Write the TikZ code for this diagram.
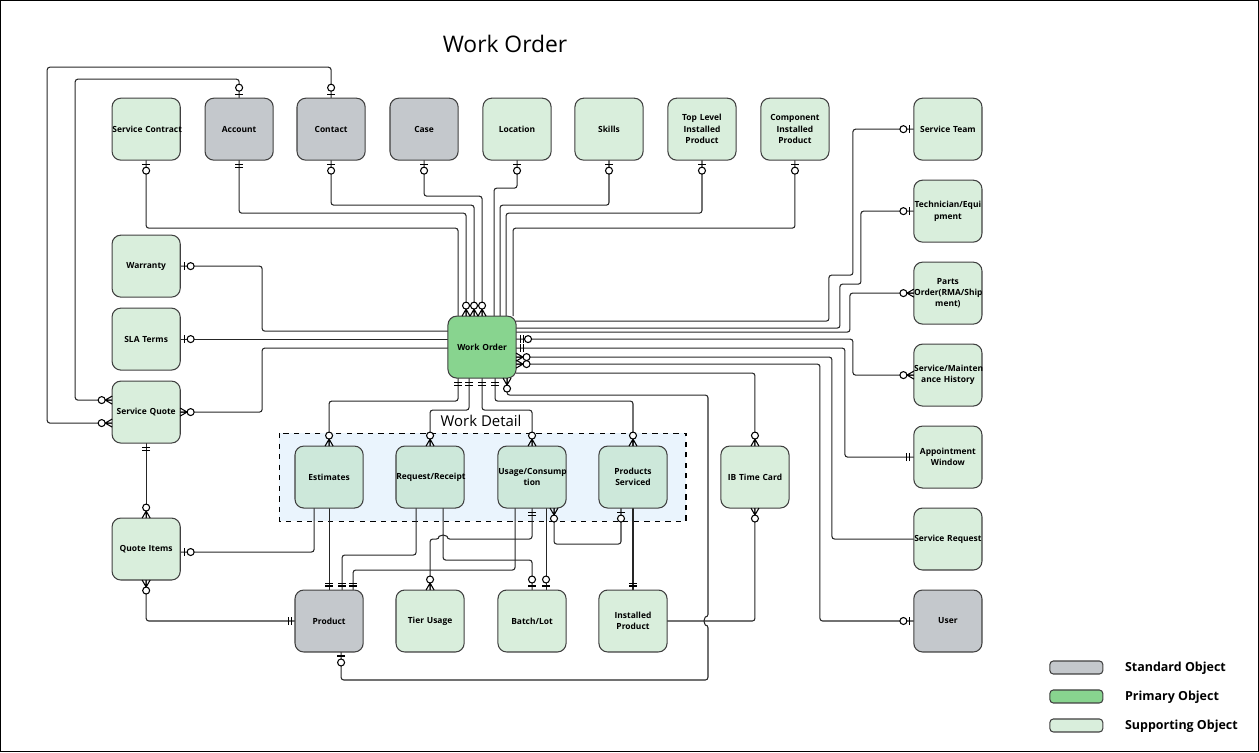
\documentclass[tikz,border=0pt]{standalone}
\usepackage{fontspec}
\setmainfont{Open Sans}
\begin{document}
\begin{tikzpicture}[x=0.02cm,y=-0.02cm,
 ent/.style={draw=black!75,line width=0.6pt,rounded corners=5pt,inner sep=0.2pt,minimum width=1.36cm,minimum height=1.24cm,text width=1.35cm,align=center,font=\fontsize{4.8}{6.5}\selectfont\bfseries},
 sup/.style={ent,fill=supc},
 std/.style={ent,fill=stdc},
 wd/.style={ent,fill=wdc},
 ln/.style={line width=0.6pt,black!85,rounded corners=1.5pt},
 zo/.pic={\draw[line width=0.6pt] (4,-4)--(4,4); \draw[line width=0.6pt,fill=white] (10.5,0) circle[radius=3.5];},
 zm/.pic={\draw[line width=0.6pt] (0,-4)--(7,0)--(0,4) (0,0)--(7,0); \draw[line width=0.6pt,fill=white] (10.5,0) circle[radius=3.5];},
 oo/.pic={\draw[line width=0.6pt] (4,-4)--(4,4) (7,-4)--(7,4);},
 ooz/.pic={\draw[line width=0.6pt] (4,-4)--(4,4) (7,-4)--(7,4); \draw[line width=0.6pt,fill=white] (12,0) circle[radius=3.5];}
]
\definecolor{supc}{HTML}{D9EEDC}
\definecolor{stdc}{HTML}{C4C8CC}
\definecolor{pric}{HTML}{88D48F}
\definecolor{wdc}{HTML}{CDE8DA}
\definecolor{boxc}{HTML}{EAF4FD}
\draw[black,line width=0.8pt] (0.5,0.5) rectangle (1258.5,751.5);
\useasboundingbox (0,0) rectangle (1259,752);
\node[font=\fontsize{13}{15}\selectfont] (title) at (505,44) {Work Order};
\draw[dashed,line width=0.6pt,fill=boxc] (279,433) rectangle (686,521);
\node[font=\fontsize{8.5}{10}\selectfont] (wdl) at (481,421) {Work Detail};
% connectors
\draw[ln] (146,160) -- (146,228) -- (458,228) -- (458,316);
\draw[ln] (239,160) -- (239,213) -- (466,213) -- (466,316);
\draw[ln] (331,160) -- (331,205) -- (474,205) -- (474,316);
\draw[ln] (424,160) -- (424,196) -- (482,196) -- (482,316);
\draw[ln] (517,160) -- (517,188) -- (494,188) -- (494,316);
\draw[ln] (609,160) -- (609,205) -- (500,205) -- (500,316);
\draw[ln] (702,160) -- (702,213) -- (506,213) -- (506,316);
\draw[ln] (795,160) -- (795,228) -- (513,228) -- (513,316);
\draw[ln] (239,98) -- (239,79) -- (75,79) -- (75,400) -- (112,400);
\draw[ln] (331,98) -- (331,67) -- (47,67) -- (47,423) -- (112,423);
\draw[ln] (180,266) -- (262,266) -- (262,331) -- (448,331);
\draw[ln] (180,339) -- (448,339);
\draw[ln] (180,412) -- (262,412) -- (262,348) -- (448,348);
\draw[ln] (516,321) -- (829,321) -- (829,275) -- (853,275) -- (853,129) -- (914,129);
\draw[ln] (516,328) -- (840,328) -- (840,284) -- (861,284) -- (861,211) -- (914,211);
\draw[ln] (516,332) -- (850,332) -- (850,293) -- (914,293);
\draw[ln] (516,339) -- (853,339) -- (853,375) -- (914,375);
\draw[ln] (516,348) -- (845,348) -- (845,457) -- (914,457);
\draw[ln] (516,357) -- (832,357) -- (832,539) -- (914,539);
\draw[ln] (516,364) -- (820,364) -- (820,621) -- (914,621);
\draw[ln] (516,373) -- (755,373) -- (755,446);
\draw[ln] (507,378) -- (507,395) -- (708,395) -- (708,617) arc (-90:-270:4) -- (708,680) -- (341,680) -- (341,652);
\draw[ln] (458,378) -- (458,401) -- (329,401) -- (329,446);
\draw[ln] (469,378) -- (469,410) -- (430,410) -- (430,446);
\draw[ln] (482,378) -- (482,410) -- (532,410) -- (532,446);
\draw[ln] (495,378) -- (495,401) -- (633,401) -- (633,446);
\draw[ln] (314,508) -- (314,552) -- (180,552);
\draw[ln] (329,508) -- (329,590);
\draw[ln] (416,508) -- (416,555) -- (342,555) -- (342,590);
\draw[ln] (515,508) -- (515,570) -- (353,570) -- (353,590);
\draw[ln] (443,508) -- (443,560) -- (532,560) -- (532,590);
\draw[ln] (532,508) -- (532,539) -- (447,539) arc (0:-180:4) -- (430,539) -- (430,590);
\draw[ln] (546,508) -- (546,590);
\draw[ln] (554,508) -- (554,544) -- (621,544) -- (621,508);
\draw[ln] (633,508) -- (633,590);
\draw[ln] (667,621) -- (755,621) -- (755,508);
\draw[ln] (146,443) -- (146,518);
\draw[ln] (146,580) -- (146,621) -- (295,621);
% nodes
\node[sup] (sc) at (146,129) {\mbox{Service Contract}};
\node[std] (acc) at (239,129) {Account};
\node[std] (con) at (331,129) {Contact};
\node[std] (case) at (424,129) {Case};
\node[sup] (loc) at (517,129) {Location};
\node[sup] (sk) at (609,129) {Skills};
\node[sup] (tl) at (702,129) {Top Level\\Installed\\Product};
\node[sup] (cp) at (795,129) {Component\\Installed\\Product};
\node[sup] (st) at (948,129) {Service Team};
\node[sup] (te) at (948,211) {Technician/Equi\\pment};
\node[sup] (po) at (948,293) {Parts\\Order(RMA/Ship\\ment)};
\node[sup] (sm) at (948,375) {Service/Mainten\\ance History};
\node[sup] (aw) at (948,457) {Appointment\\Window};
\node[sup] (sr) at (948,539) {Service Request};
\node[std] (us) at (948,621) {User};
\node[sup] (wa) at (146,266) {Warranty};
\node[sup] (sla) at (146,339) {SLA Terms};
\node[sup] (sq) at (146,412) {Service Quote};
\node[sup] (qi) at (146,549) {Quote Items};
\node[ent,fill=pric] (wo) at (482,347) {Work Order};
\node[wd] (es) at (329,477) {Estimates};
\node[wd] (rr) at (430,477) {Request/Receipt};
\node[wd] (uc) at (532,477) {Usage/Consump\\tion};
\node[wd] (ps) at (633,477) {Products\\Serviced};
\node[sup] (ib) at (755,477) {IB Time Card};
\node[std] (pr) at (329,621) {Product};
\node[sup] (tu) at (430,621) {Tier Usage};
\node[sup] (bl) at (532,621) {Batch/Lot};
\node[sup] (ip) at (633,621) {Installed\\Product};
% markers
\foreach \x in {146,331,424,517,609,702,795} \pic[rotate=-90] at (\x,160) {zo};
\pic[rotate=-90] at (239,160) {oo};
\foreach \x in {466,474,482} \pic[rotate=90] at (\x,316) {zm};
\pic[rotate=90] at (239,98) {zo};
\pic[rotate=90] at (331,98) {zo};
\pic[rotate=180] at (112,400) {zm};
\pic[rotate=180] at (112,423) {zm};
\pic at (180,266) {zo};
\pic at (180,339) {zo};
\pic at (180,412) {zm};
\pic[rotate=180] at (914,129) {zo};
\pic[rotate=180] at (914,211) {zo};
\pic[rotate=180] at (914,293) {zm};
\pic[rotate=180] at (914,375) {zm};
\pic at (516,339) {ooz};
\pic at (516,348) {oo};
\pic[rotate=180] at (914,457) {oo};
\pic at (516,357) {zm};
\pic at (516,364) {zm};
\pic[rotate=180] at (914,621) {zo};
\pic[rotate=90] at (755,446) {zm};
\pic[rotate=-90] at (507,378) {zm};
\pic[rotate=-90] at (341,652) {zo};
\foreach \x in {458,469,482,495} \pic[rotate=-90] at (\x,378) {oo};
\foreach \x in {329,430,532,633} \pic[rotate=90] at (\x,446) {zm};
\pic at (180,552) {zo};
\foreach \x in {329,342,353,633} \pic[rotate=90] at (\x,590) {oo};
\pic[rotate=90] at (532,590) {zo};
\pic[rotate=90] at (546,590) {zo};
\pic[rotate=90] at (430,590) {zm};
\pic[rotate=-90] at (532,508) {oo};
\pic[rotate=-90] at (554,508) {zm};
\pic[rotate=-90] at (621,508) {zo};
\pic[rotate=-90] at (755,508) {zm};
\pic[rotate=-90] at (146,443) {oo};
\pic[rotate=90] at (146,518) {zm};
\pic[rotate=-90] at (146,580) {zm};
\pic[rotate=180] at (295,621) {oo};
% legend
\draw[fill=stdc,draw=black!75,line width=0.6pt,rounded corners=2pt] (1050,661) rectangle (1103,674);
\draw[fill=pric,draw=black!75,line width=0.6pt,rounded corners=2pt] (1050,690) rectangle (1103,703);
\draw[fill=supc,draw=black!75,line width=0.6pt,rounded corners=2pt] (1050,719) rectangle (1103,732);
\node[anchor=west,font=\fontsize{7.1}{9}\selectfont\bfseries] (l1) at (1119,668) {Standard Object};
\node[anchor=west,font=\fontsize{7.1}{9}\selectfont\bfseries] (l2) at (1119,697) {Primary Object};
\node[anchor=west,font=\fontsize{7.1}{9}\selectfont\bfseries] (l3) at (1119,726) {Supporting Object};
\end{tikzpicture}
\end{document}
